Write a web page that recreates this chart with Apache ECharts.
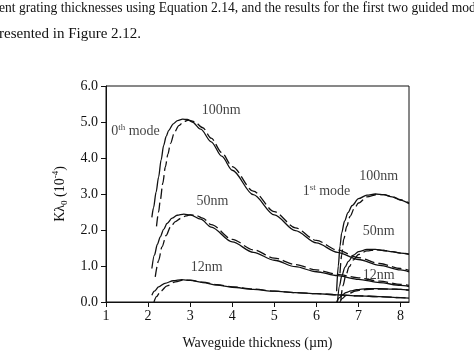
<!DOCTYPE html>
<html><head><meta charset="utf-8">
<script src="https://cdn.jsdelivr.net/npm/echarts@6/dist/echarts.min.js"></script>
<style>html,body{margin:0;padding:0;background:#fff}#c{width:474px;height:358px}</style>
</head><body><div id="c"></div>
<script>
const headerLines = [
  "ent grating thicknesses using Equation 2.14, and the results for the first two guided modes",
  "resented in Figure 2.12."
];
const xTicks = { min: 1, max: 8.2, interval: 1 };
const yTicks = { min: 0, max: 6, interval: 1 };
const xName = "Waveguide thickness (\u00b5m)";

// mode 0
const m0_100_solid = [[2.09,2.35],[2.13,2.62],[2.19,3.05],[2.25,3.47],[2.31,3.95],[2.37,4.35],[2.43,4.6],[2.49,4.77],[2.6,4.95],[2.7,5.04],[2.82,5.08],[2.93,5.07],[3.05,5.0],[3.25,4.8],[3.5,4.45],[3.75,4.05],[4.0,3.66],[4.5,2.98],[5.0,2.42],[5.5,1.98],[6.0,1.64],[6.5,1.38],[7.0,1.18],[7.5,1.02],[8.0,0.89],[8.2,0.84]];
const m0_100_dash = [[2.2,2.1],[2.25,2.5],[2.29,2.83],[2.35,3.3],[2.41,3.75],[2.47,4.1],[2.53,4.4],[2.63,4.72],[2.73,4.9],[2.85,5.01],[2.96,5.05],[3.1,5.01],[3.3,4.84],[3.5,4.55],[3.75,4.15],[4.0,3.76],[4.5,3.08],[5.0,2.51],[5.5,2.06],[6.0,1.71],[6.5,1.44],[7.0,1.23],[7.5,1.07],[8.0,0.93],[8.2,0.88]];
const m0_50_solid = [[2.09,0.93],[2.15,1.3],[2.22,1.6],[2.29,1.81],[2.37,2.02],[2.45,2.18],[2.57,2.33],[2.69,2.41],[2.85,2.44],[3.0,2.42],[3.25,2.3],[3.5,2.08],[4.0,1.67],[4.5,1.38],[5.0,1.16],[5.5,0.98],[6.0,0.84],[6.5,0.73],[7.0,0.63],[7.5,0.54],[8.0,0.46],[8.2,0.43]];
const m0_50_dash = [[2.17,0.7],[2.25,1.15],[2.33,1.53],[2.43,1.85],[2.53,2.08],[2.65,2.23],[2.77,2.32],[2.9,2.39],[3.0,2.42],[3.15,2.4],[3.3,2.33],[3.5,2.15],[4.0,1.74],[4.5,1.45],[5.0,1.22],[5.5,1.04],[6.0,0.89],[6.5,0.77],[7.0,0.67],[7.5,0.58],[8.0,0.49],[8.2,0.46]];
const m0_12_solid = [[2.09,0.19],[2.15,0.3],[2.25,0.42],[2.4,0.52],[2.6,0.59],[2.8,0.62],[3.0,0.6],[3.3,0.54],[3.64,0.47],[4.0,0.41],[4.5,0.35],[5.0,0.3],[5.5,0.26],[6.0,0.23],[6.5,0.2],[7.0,0.17],[7.5,0.15],[8.0,0.12],[8.2,0.11]];
const m0_12_dash = [[2.14,0.0],[2.2,0.15],[2.3,0.3],[2.45,0.45],[2.65,0.56],[2.85,0.61],[3.0,0.61],[3.3,0.55],[3.64,0.48],[4.0,0.42],[4.5,0.36],[5.0,0.3],[5.5,0.26],[6.0,0.23],[6.5,0.2],[7.0,0.17],[7.5,0.15],[8.0,0.12],[8.2,0.11]];
// mode 1
const m1_100_solid = [[6.48,0.3],[6.52,1.0],[6.56,1.55],[6.6,1.92],[6.67,2.25],[6.75,2.48],[6.85,2.68],[7.0,2.87],[7.2,2.97],[7.4,3.0],[7.6,2.98],[7.8,2.92],[8.0,2.83],[8.2,2.73]];
const m1_100_dash = [[6.56,0.8],[6.6,1.3],[6.65,1.75],[6.72,2.1],[6.8,2.38],[6.9,2.6],[7.0,2.75],[7.2,2.92],[7.45,2.99],[7.6,2.98],[7.8,2.93],[8.0,2.84],[8.2,2.75]];
const m1_50_solid = [[6.5,0.0],[6.55,0.45],[6.6,0.72],[6.68,0.97],[6.76,1.13],[6.88,1.3],[7.0,1.4],[7.2,1.46],[7.4,1.46],[7.6,1.43],[7.8,1.4],[8.0,1.36],[8.2,1.32]];
const m1_50_dash = [[6.58,0.05],[6.63,0.45],[6.7,0.75],[6.78,0.98],[6.88,1.17],[7.0,1.32],[7.2,1.42],[7.4,1.45],[7.6,1.43],[7.8,1.4],[8.0,1.36],[8.2,1.33]];
const m1_12_solid = [[6.48,0.0],[6.55,0.12],[6.62,0.2],[6.7,0.26],[6.82,0.31],[6.95,0.34],[7.2,0.37],[7.5,0.37],[7.8,0.36],[8.0,0.35],[8.2,0.33]];
const m1_12_dash = [[6.56,0.0],[6.62,0.1],[6.7,0.18],[6.8,0.25],[6.92,0.3],[7.1,0.34],[7.4,0.36],[7.7,0.36],[8.0,0.35],[8.2,0.33]];

// annotations in data coordinates
const annotations = [
  { text: "{a|0}{s|th}{a| mode}", x: 1.70, y: 4.74 },
  { text: "{a|100nm}", x: 3.74, y: 5.33 },
  { text: "{a|50nm}", x: 3.53, y: 2.80 },
  { text: "{a|12nm}", x: 3.39, y: 0.96 },
  { text: "{a|1}{s|st}{a| mode}", x: 6.24, y: 3.08 },
  { text: "{a|100nm}", x: 7.48, y: 3.49 },
  { text: "{a|50nm}", x: 7.48, y: 1.96 },
  { text: "{a|12nm}", x: 7.48, y: 0.74 }
];

const FONT = "'Liberation Serif', 'Times New Roman', serif";
const INK = "#111";
const chart = echarts.init(document.getElementById('c'), null, { renderer: 'canvas' });

function line(data, dashed) {
  return {
    type: 'line', data: data, showSymbol: false, symbol: 'none',
    smooth: 0.3, smoothMonotone: 'x', silent: true, animation: false,
    lineStyle: { color: INK, width: 1.3, type: dashed ? [10, 4] : 'solid' }
  };
}

const allLines = [
  [m0_100_solid,false],[m0_100_dash,true],[m0_50_solid,false],[m0_50_dash,true],
  [m0_12_solid,false],[m0_12_dash,true],[m1_100_solid,false],[m1_100_dash,true],
  [m1_50_solid,false],[m1_50_dash,true],[m1_12_solid,false],[m1_12_dash,true]
];

const series = allLines.map(d => line(d[0], d[1]));
series.push({
  type: 'scatter', symbolSize: 0, silent: true, animation: false,
  data: annotations.map(a => ({ value: [a.x, a.y], txt: a.text })),
  label: {
    show: true, position: 'inside',
    formatter: p => p.data.txt,
    rich: {
      a: { fontFamily: FONT, fontSize: 14, color: INK, lineHeight: 16 },
      s: { fontFamily: FONT, fontSize: 9, color: INK, verticalAlign: 'top', lineHeight: 16, padding: [0,0,6,0] }
    }
  }
});

chart.setOption({
  animation: false,
  backgroundColor: '#fff',
  grid: { left: 106, right: 65, top: 86, bottom: 56, show: true, borderColor: INK, borderWidth: 1, backgroundColor: 'transparent' },
  graphic: [
    { type: 'text', x: -1, y: 0, scaleX: 0.875, style: { text: headerLines[0], font: "15.5px " + FONT, fill: INK } },
    { type: 'text', x: -1, y: 27, style: { text: headerLines[1], font: "15px " + FONT, fill: INK } }
  ],
  xAxis: {
    type: 'value', min: xTicks.min, max: xTicks.max, interval: xTicks.interval,
    name: xName, nameLocation: 'middle', nameGap: 34,
    nameTextStyle: { fontFamily: FONT, fontSize: 14, color: INK },
    axisLine: { show: true, lineStyle: { color: INK, width: 1 } },
    axisTick: { show: true, inside: false, length: 5, lineStyle: { color: INK } },
    axisLabel: { fontFamily: FONT, fontSize: 14, color: INK, margin: 7, showMaxLabel: false, formatter: v => String(v) },
    splitLine: { show: false }
  },
  yAxis: {
    type: 'value', min: yTicks.min, max: yTicks.max, interval: yTicks.interval,
    name: '{a|K\u03bb}{b|0}{a| (10}{c|-4}{a|)}', nameLocation: 'middle', nameGap: 35, nameRotate: 90,
    nameTextStyle: {
      rich: {
        a: { fontFamily: FONT, fontSize: 14, color: INK, lineHeight: 18 },
        b: { fontFamily: FONT, fontSize: 9, color: INK, verticalAlign: 'bottom', lineHeight: 18 },
        c: { fontFamily: FONT, fontSize: 9, color: INK, verticalAlign: 'top', lineHeight: 18 }
      }
    },
    axisLine: { show: true, lineStyle: { color: INK, width: 1 } },
    axisTick: { show: true, inside: false, length: 5, lineStyle: { color: INK } },
    axisLabel: { fontFamily: FONT, fontSize: 14, color: INK, margin: 8, formatter: v => v.toFixed(1) },
    splitLine: { show: false }
  },
  series: series
});
</script>
</body></html>
